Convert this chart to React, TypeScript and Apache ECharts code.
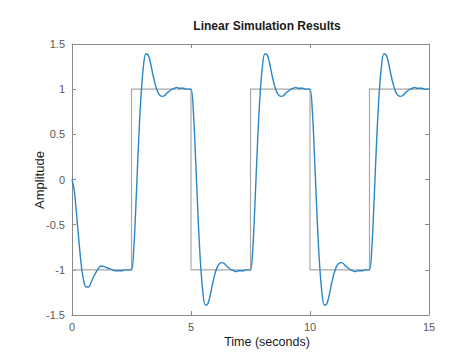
import React, { useEffect, useRef } from "react";
import * as echarts from "echarts";

// Square-wave input (gray)
const inputTimes = [0, 2.5, 2.5, 5, 5, 7.5, 7.5, 10, 10, 12.5, 12.5, 15];
const inputValues = [-1, -1, 1, 1, -1, -1, 1, 1, -1, -1, 1, 1];

const SAMPLE_STEP = 0.1;
const resp_0_25 = [0, -0.13, -0.41, -0.71, -0.97, -1.13, -1.19, -1.19, -1.14, -1.08, -1.03, -0.99, -0.96, -0.96, -0.97, -0.98, -0.99, -1.0, -1.01, -1.01, -1.01, -1.01, -1.0, -1.0, -1.0];
const resp_25_5 = [-1.0, -0.75, -0.19, 0.43, 0.93, 1.25, 1.39, 1.38, 1.29, 1.16, 1.05, 0.97, 0.93, 0.92, 0.93, 0.96, 0.98, 1.0, 1.01, 1.02, 1.01, 1.01, 1.01, 1.0, 1.0];
const resp_5_75 = [1.0, 0.75, 0.19, -0.43, -0.93, -1.25, -1.39, -1.38, -1.29, -1.16, -1.05, -0.97, -0.93, -0.92, -0.93, -0.96, -0.98, -1.0, -1.01, -1.02, -1.01, -1.01, -1.01, -1.0, -1.0];
const resp_75_10 = [-1.0, -0.75, -0.19, 0.43, 0.93, 1.25, 1.39, 1.38, 1.29, 1.16, 1.05, 0.97, 0.93, 0.92, 0.93, 0.96, 0.98, 1.0, 1.01, 1.02, 1.01, 1.01, 1.01, 1.0, 1.0];
const resp_10_125 = [1.0, 0.75, 0.19, -0.43, -0.93, -1.25, -1.39, -1.38, -1.29, -1.16, -1.05, -0.97, -0.93, -0.92, -0.93, -0.96, -0.98, -1.0, -1.01, -1.02, -1.01, -1.01, -1.01, -1.0, -1.0];
const resp_125_15 = [-1.0, -0.75, -0.19, 0.43, 0.93, 1.25, 1.39, 1.38, 1.29, 1.16, 1.05, 0.97, 0.93, 0.92, 0.93, 0.96, 0.98, 1.0, 1.01, 1.02, 1.01, 1.01, 1.01, 1.0, 1.0, 1.0];

const response = [
  ...resp_0_25,
  ...resp_25_5,
  ...resp_5_75,
  ...resp_75_10,
  ...resp_10_125,
  ...resp_125_15,
];

const xTicks = [0, 15, 5];
const yTicks = [-1.5, 1.5, 0.5];

const titleText = "Linear Simulation Results";
const xLabelText = "Time (seconds)";
const yLabelText = "Amplitude";

export default function App() {
  const ref = useRef<HTMLDivElement>(null);
  useEffect(() => {
    if (!ref.current) return;
    const chart = echarts.init(ref.current, null, { renderer: "svg" });
    const font = "Liberation Sans, Arial, Helvetica, sans-serif";
    const axisColor = "#8a8a8a";
    const labelColor = "#5a5a5a";
    const respData = response.map((v, i) => [Math.round(i * SAMPLE_STEP * 10) / 10, v]);
    const inputData = inputTimes.map((t, i) => [t, inputValues[i]]);
    const baseX = {
      type: "value",
      min: xTicks[0],
      max: xTicks[1],
      interval: xTicks[2],
      splitLine: { show: false },
      axisLine: { show: true, onZero: false, lineStyle: { color: axisColor, width: 1 } },
      axisTick: { show: true, inside: true, length: 4, lineStyle: { color: axisColor } },
    };
    const baseY = {
      type: "value",
      min: yTicks[0],
      max: yTicks[1],
      interval: yTicks[2],
      splitLine: { show: false },
      axisLine: { show: true, onZero: false, lineStyle: { color: axisColor, width: 1 } },
      axisTick: { show: true, inside: true, length: 4, lineStyle: { color: axisColor } },
    };
    chart.setOption({
      animation: false,
      backgroundColor: "#ffffff",
      grid: { left: 72, right: 45, top: 44, bottom: 40, containLabel: false },
      xAxis: [
        {
          ...baseX,
          position: "bottom",
          axisLabel: { show: true, color: labelColor, fontSize: 11, fontFamily: font, margin: 6 },
        },
        { ...baseX, position: "top", axisLabel: { show: false } },
      ],
      yAxis: [
        {
          ...baseY,
          position: "left",
          axisLabel: { show: true, color: labelColor, fontSize: 11, fontFamily: font, margin: 7 },
        },
        { ...baseY, position: "right", axisLabel: { show: false } },
      ],
      graphic: [
        {
          type: "text",
          x: 267,
          y: 26,
          style: {
            text: titleText,
            fontSize: 12,
            fontWeight: "bold",
            fontFamily: font,
            fill: "#1a1a1a",
            align: "center",
            verticalAlign: "middle",
          },
        },
        {
          type: "text",
          x: 267,
          y: 342,
          style: {
            text: xLabelText,
            fontSize: 12.5,
            fontFamily: font,
            fill: "#1a1a1a",
            align: "center",
            verticalAlign: "middle",
          },
        },
        {
          type: "text",
          x: 39,
          y: 180,
          rotation: Math.PI / 2,
          style: {
            text: yLabelText,
            fontSize: 13,
            fontFamily: font,
            fill: "#1a1a1a",
            align: "center",
            verticalAlign: "middle",
          },
        },
      ],
      series: [
        {
          type: "line",
          data: inputData,
          showSymbol: false,
          symbol: "none",
          lineStyle: { color: "#a8a8a8", width: 1.2 },
          itemStyle: { color: "#a8a8a8" },
          z: 2,
        },
        {
          type: "line",
          data: respData,
          showSymbol: false,
          symbol: "none",
          smooth: 0.35,
          lineStyle: { color: "#2b86c8", width: 1.4 },
          itemStyle: { color: "#2b86c8" },
          z: 3,
        },
      ],
    });
    return () => chart.dispose();
  }, []);
  return <div ref={ref} style={{ width: 474, height: 355, position: "absolute", left: 0, top: 0 }} />;
}
